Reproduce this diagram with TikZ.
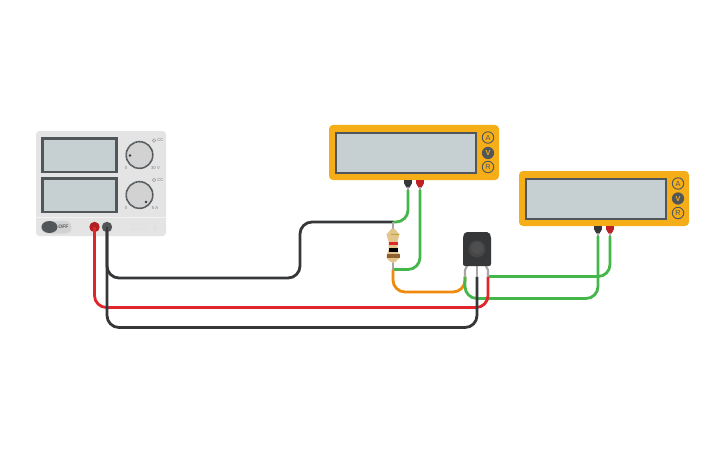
\documentclass[tikz,border=0pt]{standalone}
\usepackage{fontspec}
\setmainfont{Liberation Sans}
\definecolor{wred}{HTML}{E0262B}
\definecolor{wblack}{HTML}{353739}
\definecolor{wgreen}{HTML}{45B649}
\definecolor{worange}{HTML}{F08A0C}
\definecolor{myellow}{HTML}{F5AE17}
\definecolor{lcd}{HTML}{C6CFD2}
\definecolor{lcdedge}{HTML}{50565A}
\definecolor{psbody}{HTML}{E4E4E4}
\definecolor{tan}{HTML}{E3C48B}
\tikzset{
 wire/.style={line width=2.1pt,rounded corners=9pt,line join=round},
 lcdbox/.style={draw=lcdedge,fill=lcd,line width=2.2pt},
 meterbody/.style={fill=myellow,rounded corners=3pt},
 knob/.style={circle,draw=lcdedge,fill=lightgray!70,line width=1.2pt,dash pattern=on 0.8pt off 0.3pt,minimum size=20pt,inner sep=0},
 modeon/.style={circle,fill=lcdedge,text=myellow,minimum size=9.2pt,inner sep=0,font=\fontsize{5.5}{5.5}\selectfont\bfseries},
 modeoff/.style={circle,draw=lcdedge,line width=.7pt,text=lcdedge,minimum size=8.6pt,inner sep=0,font=\fontsize{5.5}{5.5}\selectfont},
 tiny/.style={font=\fontsize{3.2}{3.6}\selectfont,text=gray,inner sep=0,align=center},
}
\newcommand{\proberk}[3]{%
 \fill[#3] (#1-3.8,#2) -- (#1+3.8,#2) -- (#1+3.8,#2+3.5) -- (#1+1.5,#2+7.5) -- (#1-1.5,#2+7.5) -- (#1-3.8,#2+3.5) -- cycle;
 \draw[line width=1.8pt,gray!70] (#1,#2+7) -- (#1,#2+10);
}
\begin{document}
\begin{tikzpicture}[x=0.75pt,y=-0.75pt]
\useasboundingbox (0,0) rectangle (725,453);
\fill[white] (0,0) rectangle (725,453);

% Power supply
\fill[psbody,rounded corners=2.5pt] (36,131) rectangle (166,236);
\draw[white!90!gray,line width=.6pt] (36,217) -- (166,217);
\draw[lcdbox] (42.5,138.5) rectangle (116.5,172);
\draw[lcdbox] (42.5,178.5) rectangle (116.5,212);
\node[knob] (k1) at (139.5,155) {};
\node[knob] (k2) at (139.5,195) {};
\fill[wblack] (130,155.5) circle (1.4);
\fill[wblack] (146,202) circle (1.4);
\node[tiny] (t1) at (126,168.5) {0};
\node[tiny] (t2) at (155.5,168.5) {30 V};
\node[tiny] (t3) at (126,208.5) {0};
\node[tiny] (t4) at (155,208.5) {5 A};
\draw[gray!80,line width=.4pt] (154,140.5) circle (1.8);
\node[tiny,anchor=west] (t5) at (157,140.5) {CC};
\draw[gray!80,line width=.4pt] (154,180) circle (1.8);
\node[tiny,anchor=west] (t6) at (157,180) {CC};
\fill[gray!35,rounded corners=4.5pt] (41,221) rectangle (71.5,233.5);
\fill[lcdedge] (49.5,227) ellipse (8 and 6);
\node[font=\fontsize{3.8}{4}\selectfont\bfseries,text=gray!70!black,inner sep=0] (off) at (63.5,227) {OFF};
\node[tiny,text=white!75!gray] (vs) at (139.5,227.5) {VOLTAGE\\SUPPLY};
\fill[white!75!gray] (157,222) -- (153,228) -- (155,228) -- (153.5,232.5) -- (157.5,226.5) -- (155.5,226.5) -- cycle;
\coordinate (psred) at (94.5,227);
\coordinate (psblack) at (107,227);

% Meters
\fill[meterbody] (329,125) rectangle (499,180);
\draw[lcdbox] (336,133) rectangle (476,173);
\node[modeoff] (a1) at (488,137.5) {A};
\node[modeon] (v1) at (488,153) {V};
\node[modeoff] (r1) at (488,167) {R};
\fill[meterbody] (519,171) rectangle (689,226);
\draw[lcdbox] (526,179) rectangle (666,219);
\node[modeoff] (a2) at (678,183.5) {A};
\node[modeon] (v2) at (678,198.5) {V};
\node[modeoff] (r2) at (678,213) {R};

% Wires
\coordinate (m1b) at (408,190);
\coordinate (m1r) at (420,190);
\coordinate (m2b) at (598,236);
\coordinate (m2r) at (610,236);
\coordinate (rtop) at (393,222);
\coordinate (rbot) at (393,269.5);
\coordinate (p1) at (465,276.5);
\coordinate (p2) at (477,276.5);
\coordinate (p3) at (488,276.5);

\draw[wire,wgreen] (m1b) -- (408,222) -- (rtop);
\draw[wire,wgreen] (m1r) -- (420,269.5) -- (rbot);
\draw[wire,worange] (rbot) -- (393,292) -- (465,292) -- (p1);
\draw[wire,wgreen] (p1) -- (465,298.5) -- (598,298.5) -- (m2b);
\draw[wire,wgreen] (p3) -- (610,276.5) -- (m2r);
\draw[wire,wred] (psred) -- (94.5,307.5) -- (488,307.5) -- (p3);
\draw[wire,wblack] (psblack) -- (107,278) -- (300,278) -- (300,222) -- (rtop);
\draw[wire,wblack] (psblack) -- (107,327.5) -- (477,327.5) -- (p2);

% terminals
\fill[wred!80!black] (psred) circle (5.2);
\fill[wblack!85!white] (psblack) circle (5.2);
\draw[wred,line width=2.1pt] (psred) -- (94.5,234);
\draw[wblack,line width=2.1pt] (psblack) -- (107,234);

% probes
\proberk{408}{180}{wblack}
\proberk{420}{180}{wred!85!black}
\proberk{598}{226}{wblack}
\proberk{610}{226}{wred!85!black}

% Resistor
\draw[line width=1.8pt,gray!70] (393,222) -- (393,232);
\draw[line width=1.8pt,gray!70] (393,258) -- (393,269.5);
\fill[tan] (393,228.5) .. controls (396,228.5) and (396,232) .. (399.5,234) .. controls (400,237) and (397.5,238) .. (397.5,241)
 -- (397.5,250) .. controls (397.5,253) and (400,254) .. (399.5,258) .. controls (396,261) and (395,263) .. (393,263)
 .. controls (391,263) and (390,261) .. (386.5,258) .. controls (386,254) and (388.5,253) .. (388.5,250)
 -- (388.5,241) .. controls (388.5,238) and (386,237) .. (386.5,234) .. controls (390,232) and (390,228.5) .. (393,228.5) -- cycle;
\fill[wred] (388.5,241.5) rectangle (397.5,245);
\fill[black] (388.5,248) rectangle (397.5,251.5);
\fill[brown!75!black] (386.5,254) rectangle (399.5,258);
\fill[olive!70] (391,233.5) rectangle (399,234.3);

% Transistor legs
\draw[line width=1.6pt,gray!70,line join=round] (468,264) -- (465,270) -- (465,276.5);
\draw[line width=1.6pt,gray!70] (477,264) -- (477,276.5);
\draw[line width=1.6pt,gray!70,line join=round] (485,264) -- (488,270) -- (488,276.5);
% Transistor
\fill[wblack,rounded corners=1.5pt] (465,232) -- (489,232) -- (491,236) -- (491,266) -- (463,266) -- (463,236) -- cycle;
\fill[gray!55!black] (477,249) circle (8.5);
\fill[gray!70!black,opacity=.5] (477,248) circle (6);
\end{tikzpicture}
\end{document}
